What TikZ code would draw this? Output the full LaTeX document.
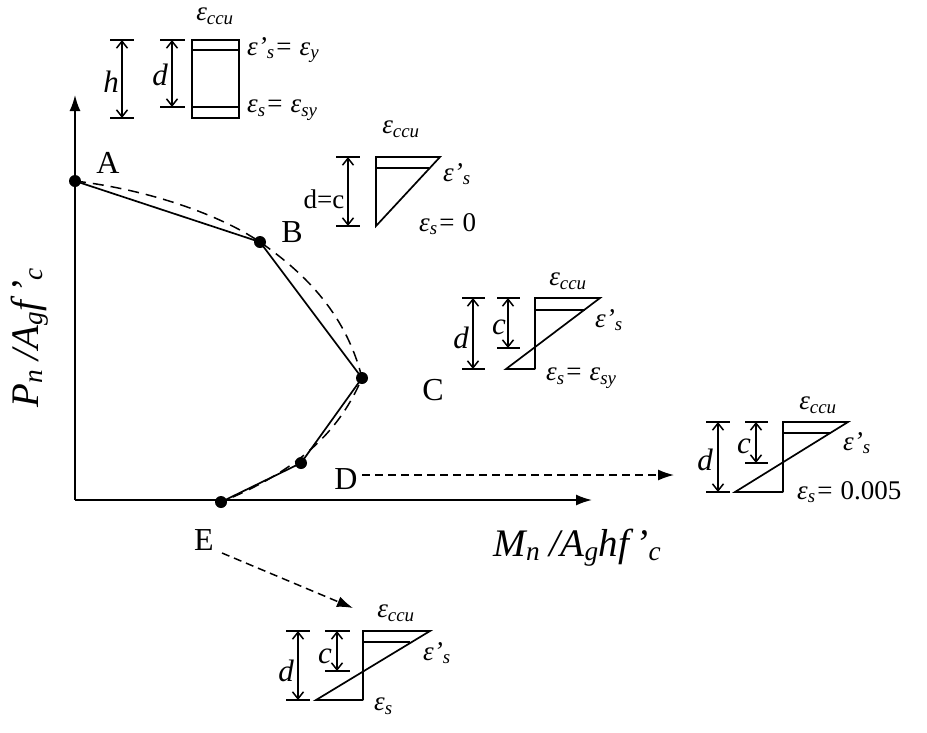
\documentclass[tikz,border=0pt]{standalone}
\usepackage{fontspec}
\setmainfont{Liberation Serif}
\usetikzlibrary{arrows.meta}
\newcommand\ee[1]{ε\textsubscript{#1}}
\begin{document}
\begin{tikzpicture}[x=1pt,y=-1pt,
  ln/.style={line width=1.7pt},
  dim/.style={line width=1.5pt,{Straight Barb[length=7pt,width=11pt]}-{Straight Barb[length=7pt,width=11pt]}},
  tick/.style={line width=1.2pt},
  pt/.style={circle,fill=black,inner sep=0pt,minimum size=12pt},
  lbl/.style={font=\fontsize{32}{32}\selectfont,inner sep=1pt},
  eps/.style={font=\fontsize{27}{27}\selectfont\itshape,inner sep=1pt,anchor=west},
  dlab/.style={font=\fontsize{31}{31}\selectfont\itshape,inner sep=0pt},
  dsh/.style={line width=1.5pt,dash pattern=on 8pt off 5pt,-{Latex[length=16pt,width=11pt]}}]
\useasboundingbox (0,0) rectangle (927,732);
% axes
\coordinate (O) at (75,500);
\coordinate (Ytop) at (75,95);
\coordinate (Xend) at (592,500);
\draw[ln,-{Latex[length=16pt,width=11pt]}] (O) -- (Ytop);
\draw[ln,-{Latex[length=16pt,width=11pt]}] (O) -- (Xend);
\node[rotate=90,font=\fontsize{39}{39}\selectfont\itshape] (ylab) at (30,338) {P\textsubscript{n} /A\textsubscript{g}f\,'\textsubscript{c}};
\node[font=\fontsize{39}{39}\selectfont\itshape,anchor=west] (xlab) at (490,548) {M\textsubscript{n} /A\textsubscript{g}hf\,'\textsubscript{c}};
% points
\node[pt] (A) at (75,181) {};
\node[pt] (B) at (260,242) {};
\node[pt] (C) at (362,378) {};
\node[pt] (D) at (301,463) {};
\node[pt] (E) at (221,502) {};
\draw[ln] (A.center) -- (B.center) -- (C.center) -- (D.center) -- (E.center);
\draw[line width=1.5pt,dash pattern=on 11pt off 7pt] (A.center) .. controls (150,190) and (220,215) .. (B.center)
  .. controls (300,270) and (345,310) .. (C.center)
  .. controls (340,430) and (300,470) .. (E.center);
\node[lbl] (la) at (108,163) {A};
\node[lbl] (lb) at (292,232) {B};
\node[lbl] (lc) at (433,390) {C};
\node[lbl] (ld) at (346,479) {D};
\node[lbl] (le) at (204,540) {E};
% dashed arrows
\coordinate (Dfrom) at (362,475);
\coordinate (Dto) at (674,475);
\coordinate (Efrom) at (222,553);
\coordinate (Eto) at (353,608);
\draw[dsh] (Dfrom) -- (Dto);
\draw[dsh] (Efrom) -- (Eto);
% top section
\draw[ln] (192,40) rectangle (239,118);
\draw[ln] (192,50) -- (239,50);
\draw[ln] (192,107) -- (239,107);
\draw[tick] (110,40) -- (134,40) (110,118) -- (134,118);
\draw[dim] (122,40) -- (122,118);
\draw[tick] (160,40) -- (185,40) (160,107) -- (185,107);
\draw[dim] (172,40) -- (172,107);
\node[dlab] (h1) at (111,82) {h};
\node[dlab] (d1) at (160,75) {d};
\node[eps,anchor=center] (e1) at (215,16) {\ee{ccu}};
\node[eps] (e2) at (246,50) {ε'\textsubscript{s}= \ee{y}};
\node[eps] (e3) at (246,110) {\ee{s}= \ee{sy}};
% B section
\draw[ln] (376,157) -- (440,157) -- (376,226) -- cycle;
\draw[ln] (376,168) -- (429,168);
\draw[tick] (336,157) -- (360,157) (336,226) -- (360,226);
\draw[dim] (348,157) -- (348,226);
\node[font=\fontsize{27}{27}\selectfont,inner sep=0pt] (dc) at (324,199) {d=c};
\node[eps,anchor=center] (e4) at (401,129) {\ee{ccu}};
\node[eps] (e5) at (442,174) {ε'\textsubscript{s}};
\node[eps] (e6) at (418,224) {\ee{s}= \upshape 0};
% C section
\draw[ln] (535,369) -- (535,298) -- (600,298) -- (506,369) -- (535,369);
\draw[ln] (535,310) -- (585,310);
\draw[tick] (462,298) -- (485,298) (462,369) -- (485,369);
\draw[dim] (473,298) -- (473,369);
\draw[tick] (497,298) -- (520,298) (497,348) -- (520,348);
\draw[dim] (508,298) -- (508,348);
\node[dlab] (dC) at (461,338) {d};
\node[dlab] (cC) at (499,327) {c};
\node[eps,anchor=center] (e7) at (568,281) {\ee{ccu}};
\node[eps] (e8) at (594,320) {ε'\textsubscript{s}};
\node[eps] (e9) at (545,378) {\ee{s}= \ee{sy}};
% D section
\draw[ln] (783,492) -- (783,422) -- (848,422) -- (735,492) -- (783,492);
\draw[ln] (783,433) -- (831,433);
\draw[tick] (706,422) -- (730,422) (706,492) -- (730,492);
\draw[dim] (718,422) -- (718,492);
\draw[tick] (745,422) -- (768,422) (745,463) -- (768,463);
\draw[dim] (756,422) -- (756,463);
\node[dlab] (dD) at (705,460) {d};
\node[dlab] (cD) at (744,446) {c};
\node[eps,anchor=center] (e10) at (818,405) {\ee{ccu}};
\node[eps] (e11) at (842,443) {ε'\textsubscript{s}};
\node[eps] (e12) at (796,492) {\ee{s}= \upshape 0.005};
% E section
\draw[ln] (363,700) -- (363,631) -- (430,631) -- (316,700) -- (363,700);
\draw[ln] (363,642) -- (410,642);
\draw[tick] (286,631) -- (310,631) (286,700) -- (310,700);
\draw[dim] (298,631) -- (298,700);
\draw[tick] (325,631) -- (350,631) (325,671) -- (350,671);
\draw[dim] (337,631) -- (337,671);
\node[dlab] (dE) at (286,671) {d};
\node[dlab] (cE) at (325,656) {c};
\node[eps,anchor=center] (e13) at (396,613) {\ee{ccu}};
\node[eps] (e14) at (422,653) {ε'\textsubscript{s}};
\node[eps] (e15) at (373,706) {\ee{s}};
\end{tikzpicture}
\end{document}
